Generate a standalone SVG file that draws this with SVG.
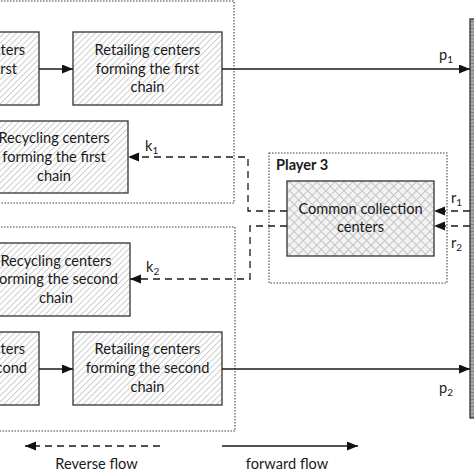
<svg xmlns="http://www.w3.org/2000/svg" width="474" height="474" viewBox="0 0 474 474">
<style>
text{font-family:Lato,"Liberation Sans",sans-serif;font-size:14.6px;fill:#1a1a1a}
.c{text-anchor:middle}
.e{text-anchor:end}
.box{stroke:#333;stroke-width:1.3;fill:url(#hatch)}
.grp{fill:none;stroke:#444;stroke-width:1.1;stroke-dasharray:1.6 1.4}
.sol{fill:none;stroke:#1a1a1a;stroke-width:1.3}
.dash{fill:none;stroke:#1a1a1a;stroke-width:1.3;stroke-dasharray:7 5}
.sub{font-size:10px}
</style>
<defs>
<pattern id="hatch" patternUnits="userSpaceOnUse" width="4.3" height="10" patternTransform="rotate(45)">
<rect width="4.3" height="10" fill="#fff"/>
<line x1="0.5" y1="0" x2="0.5" y2="10" stroke="#c8c8c8" stroke-width="0.9"/>
</pattern>
<pattern id="cross" patternUnits="userSpaceOnUse" width="6.4" height="6.4" patternTransform="rotate(45)">
<rect width="6.4" height="6.4" fill="#f3f3f3"/>
<line x1="0.5" y1="0" x2="0.5" y2="6.4" stroke="#c4c4c4" stroke-width="1"/>
<line x1="0" y1="0.5" x2="6.4" y2="0.5" stroke="#c4c4c4" stroke-width="1"/>
</pattern>
<pattern id="bar" patternUnits="userSpaceOnUse" width="10" height="3.5">
<rect width="10" height="3.5" fill="#aaa"/>
<line x1="0" y1="0.5" x2="10" y2="0.5" stroke="#7a7a7a" stroke-width="0.9"/>
</pattern>
<marker id="ah" markerUnits="userSpaceOnUse" markerWidth="12" markerHeight="10" refX="11" refY="4.5" orient="auto">
<path d="M0,0 L11,4.5 L0,9 z" fill="#111"/>
</marker>
</defs>
<rect width="474" height="474" fill="#fff"/>

<g id="player1">
<rect class="grp" x="-5" y="1" width="239" height="202"/>
</g>
<g id="player2">
<rect class="grp" x="-5" y="227" width="240" height="204"/>
</g>
<g id="player3">
<rect class="grp" x="269" y="153" width="178" height="130"/>
<text x="276" y="170" style="font-weight:bold">Player 3</text>
</g>

<g id="manufacturing1">
<rect class="box" x="-109" y="32" width="148" height="73"/>
<text class="e" x="25" y="55">centers</text>
<text class="e" x="17" y="74">first</text>
</g>
<g id="retailing1">
<rect class="box" x="73" y="32" width="149" height="73"/>
<text class="c" x="147.5" y="55">Retailing centers</text>
<text class="c" x="147.5" y="74">forming the first</text>
<text class="c" x="147.5" y="92">chain</text>
</g>
<g id="recycling1">
<rect class="box" x="-20" y="121" width="148" height="72"/>
<text class="c" x="54" y="143">Recycling centers</text>
<text class="c" x="54" y="162">forming the first</text>
<text class="c" x="54" y="181">chain</text>
</g>
<g id="recycling2">
<rect class="box" x="-18" y="243" width="148" height="73"/>
<text class="c" x="56" y="266">Recycling centers</text>
<text class="c" x="56" y="284">forming the second</text>
<text class="c" x="56" y="303">chain</text>
</g>
<g id="manufacturing2">
<rect class="box" x="-109" y="332" width="148" height="73"/>
<text class="e" x="25" y="354">centers</text>
<text class="e" x="27" y="373">second</text>
</g>
<g id="retailing2">
<rect class="box" x="73" y="332" width="149" height="73"/>
<text class="c" x="147.5" y="354">Retailing centers</text>
<text class="c" x="147.5" y="373">forming the second</text>
<text class="c" x="147.5" y="392">chain</text>
</g>
<g id="collection">
<rect x="287" y="181" width="147" height="75" stroke="#333" stroke-width="1.3" fill="url(#cross)"/>
<text class="c" x="360.5" y="214">Common collection</text>
<text class="c" x="360.5" y="232">centers</text>
</g>
<g id="market">
<rect x="470" y="19" width="12" height="399" stroke="#333" stroke-width="1.3" fill="url(#bar)"/>
</g>

<g id="connectors">
<line class="sol" x1="39" y1="69" x2="73" y2="69" marker-end="url(#ah)"/>
<line class="sol" x1="222" y1="69" x2="470" y2="69" marker-end="url(#ah)"/>
<line class="sol" x1="39" y1="369" x2="73" y2="369" marker-end="url(#ah)"/>
<line class="sol" x1="222" y1="369" x2="470" y2="369" marker-end="url(#ah)"/>
<line class="dash" x1="470" y1="211" x2="434" y2="211" marker-end="url(#ah)"/>
<line class="dash" x1="470" y1="226" x2="434" y2="226" marker-end="url(#ah)"/>
<path class="dash" d="M287,211 H248 V157 H128" marker-end="url(#ah)"/>
<path class="dash" d="M287,226 H250 V279 H130" marker-end="url(#ah)"/>
<line class="dash" x1="160" y1="446" x2="25" y2="446" marker-end="url(#ah)"/>
<line class="sol" x1="222" y1="446" x2="358" y2="446" marker-end="url(#ah)"/>
</g>

<g id="labels">
<text x="439" y="60">p<tspan class="sub" dy="3">1</tspan></text>
<text x="439" y="393">p<tspan class="sub" dy="3">2</tspan></text>
<text x="451" y="203">r<tspan class="sub" dy="3">1</tspan></text>
<text x="451" y="248">r<tspan class="sub" dy="3">2</tspan></text>
<text x="145" y="151">k<tspan class="sub" dy="3">1</tspan></text>
<text x="146" y="272">k<tspan class="sub" dy="3">2</tspan></text>
<text class="c" x="96.5" y="469">Reverse flow</text>
<text class="c" x="287" y="469">forward flow</text>
</g>
</svg>
